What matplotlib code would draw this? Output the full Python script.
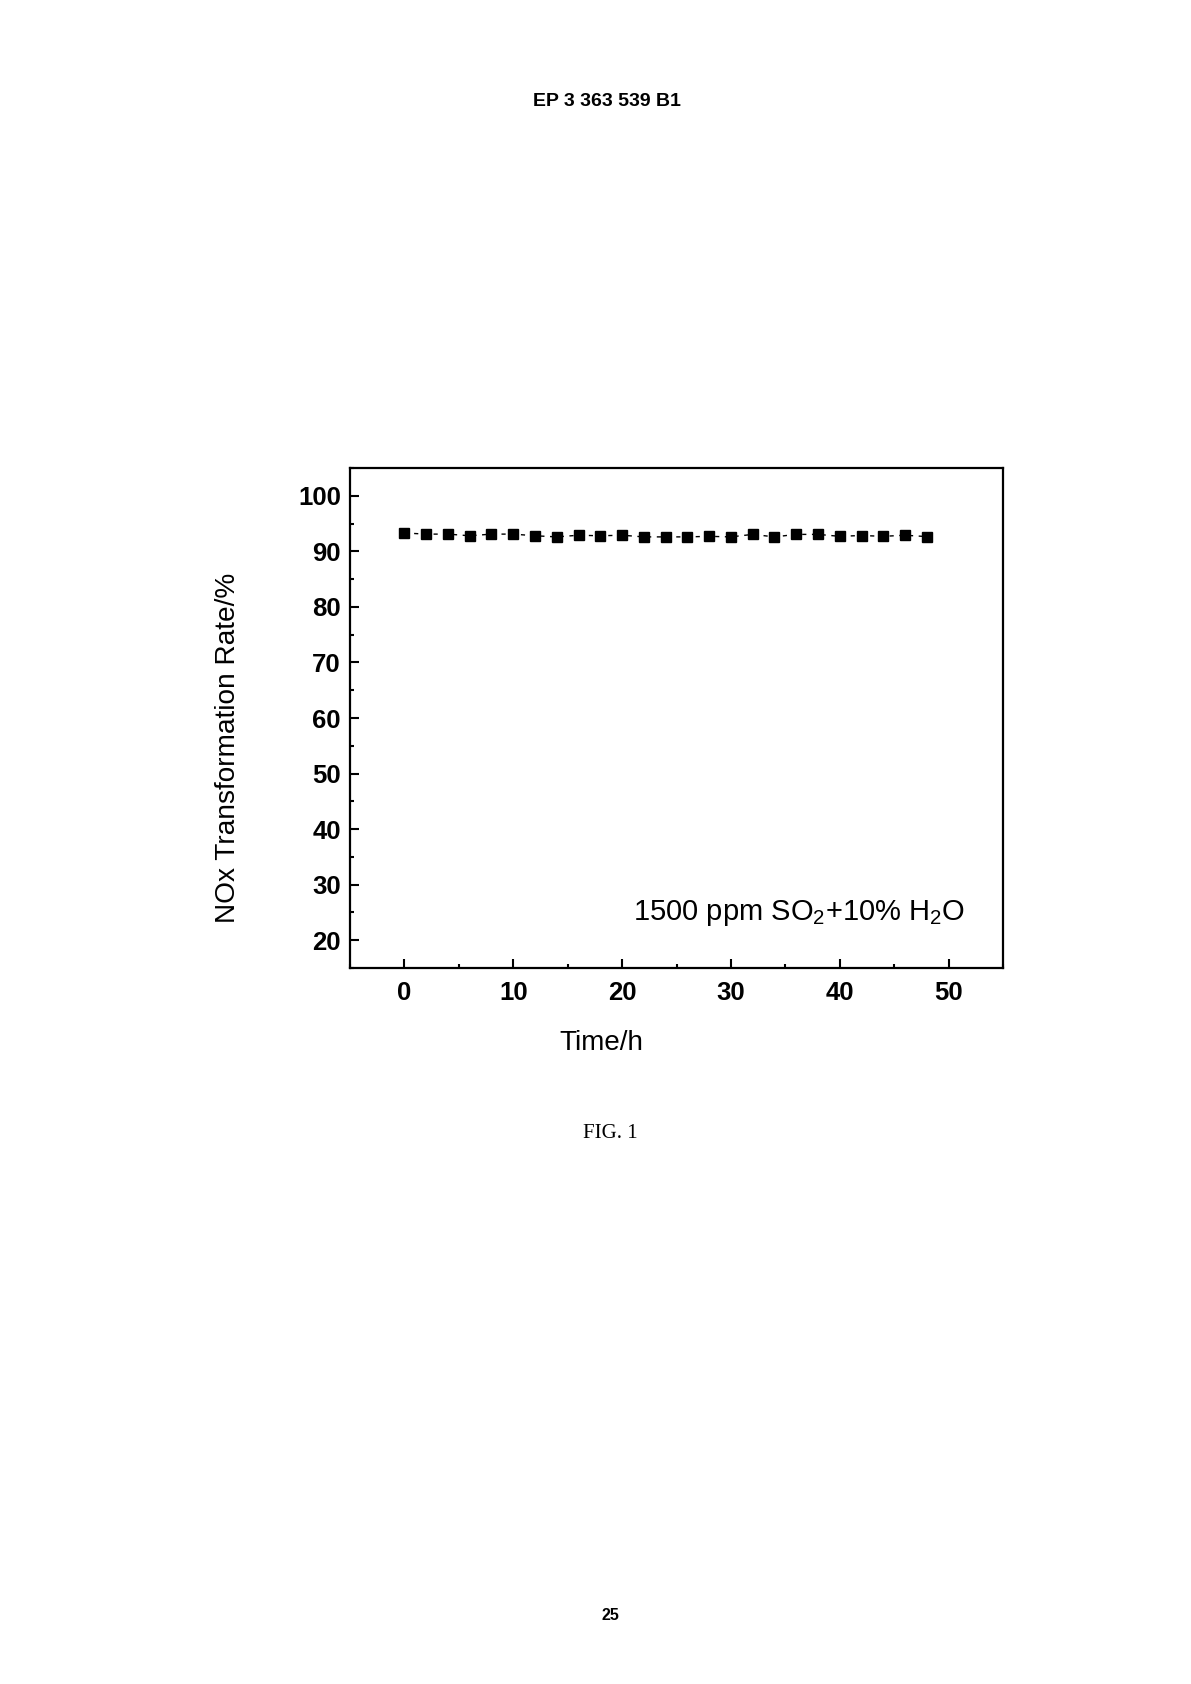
import matplotlib
matplotlib.use("Agg")
import matplotlib.pyplot as plt
from matplotlib.ticker import MultipleLocator

plt.rcParams['font.family'] = ['Liberation Sans', 'DejaVu Sans']
plt.rcParams['mathtext.fontset'] = 'custom'
plt.rcParams['mathtext.rm'] = 'Liberation Sans'
plt.rcParams['mathtext.it'] = 'Liberation Sans:italic'
plt.rcParams['mathtext.bf'] = 'Liberation Sans:bold'

# data
time_h = [0, 2, 4, 6, 8, 10, 12, 14, 16, 18, 20, 22, 24,
          26, 28, 30, 32, 34, 36, 38, 40, 42, 44, 46, 48]
nox_rate = [93.3, 93.1, 93.1, 92.8, 93.1, 93.1, 92.8, 92.6, 92.9, 92.8, 92.9, 92.6, 92.6,
            92.6, 92.7, 92.6, 93.05, 92.6, 93.05, 93.05, 92.7, 92.85, 92.7, 92.9, 92.65]
x_ticks = [0, 10, 20, 30, 40, 50]
y_ticks = [20, 30, 40, 50, 60, 70, 80, 90, 100]

W, H = 1191, 1684
fig = plt.figure(figsize=(W / 100, H / 100), dpi=100)

# axes box in pixels: x 350..1003, y 468..968
ax = fig.add_axes([350 / W, 1 - 968 / H, (1003 - 350) / W, (968 - 468) / H])

ax.plot(time_h, nox_rate, color='black', linestyle=(0, (3, 4)), linewidth=1.0,
        marker='s', markersize=7.3, markerfacecolor='black', markeredgecolor='black')

ax.set_xlim(-5, 55)
ax.set_ylim(15, 105)
ax.set_xticks(x_ticks)
ax.set_yticks(y_ticks)
ax.xaxis.set_minor_locator(MultipleLocator(5))
ax.yaxis.set_minor_locator(MultipleLocator(5))

for s in ax.spines.values():
    s.set_linewidth(1.6)
    s.set_color('black')

ax.tick_params(which='both', direction='in', top=False, right=False, width=1.5, color='black')
ax.tick_params(which='major', length=6.5)
ax.tick_params(which='minor', length=3)
ax.tick_params(axis='x', which='major', pad=9)
ax.tick_params(axis='y', which='major', pad=6.5)
for lab in ax.get_xticklabels() + ax.get_yticklabels():
    lab.set_fontsize(18.5)
    lab.set_fontweight('bold')

ax.text(51.5, 23.7, r'1500 ppm SO$_2$+10% H$_2$O', ha='right', va='baseline',
        fontsize=21, color='black')

# axis titles
fig.text(235 / W, 1 - 748 / H, 'NOx Transformation Rate/%', rotation=90,
         rotation_mode='anchor', ha='center', va='baseline', fontsize=20.2)
fig.text(601 / W, 1 - 1050 / H, 'Time/h', ha='center', va='baseline', fontsize=20)

# page furniture
fig.text(607 / W, 1 - 102 / H, 'EP 3 363 539 B1', ha='center', va='center',
         fontsize=14, fontweight='bold')
fig.text(610 / W, 1 - 1134 / H, 'FIG. 1', ha='center', va='center',
         fontsize=15, family=['Liberation Serif', 'DejaVu Serif'])
fig.text(610 / W, 1 - 1616 / H, '25', ha='center', va='center',
         fontsize=11.5, fontweight='bold')

fig.savefig('out.png', dpi=100, facecolor='white')
